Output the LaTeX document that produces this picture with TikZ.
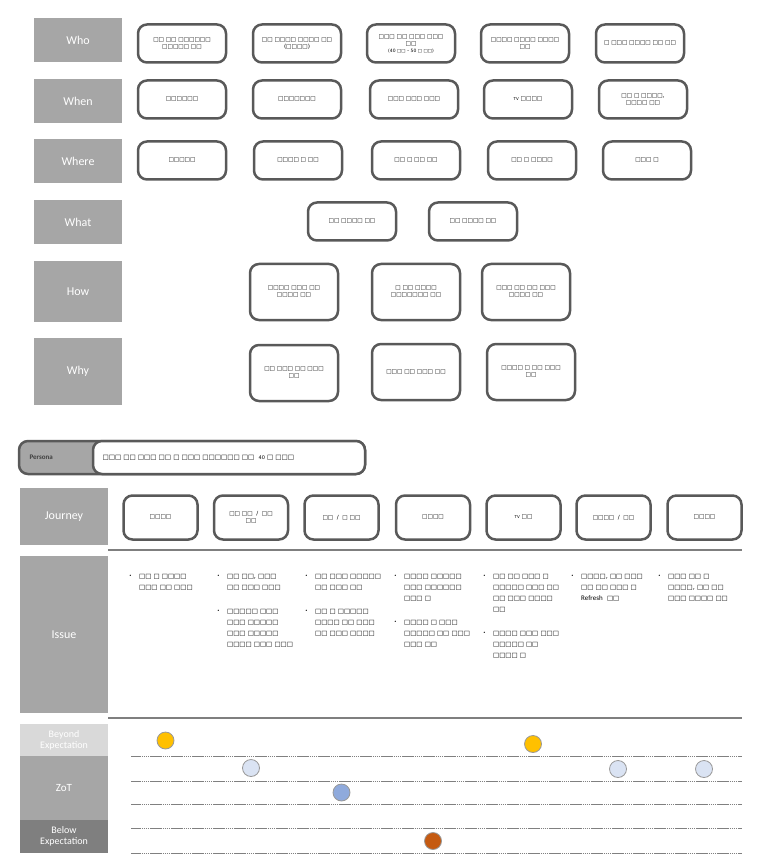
\documentclass[tikz,border=0pt]{standalone}
\usepackage{fontspec}
\setmainfont{DejaVu Sans}
\newfontfamily\labfont{Carlito}
\usetikzlibrary{positioning}
\definecolor{labgray}{HTML}{A6A6A6}
\definecolor{lightlab}{HTML}{D9D9D9}
\definecolor{darklab}{HTML}{7F7F7F}
\definecolor{cardline}{HTML}{595959}
\definecolor{gold}{HTML}{FFC000}
\definecolor{paleblue}{HTML}{DAE3F3}
\definecolor{midblue}{HTML}{8FAADC}
\definecolor{rust}{HTML}{C55A11}
\newcommand{\itm}[1]{\noindent\makebox[10pt][l]{\raisebox{1pt}{\fontsize{4.5}{5}\selectfont•}}\begin{tabular}[t]{@{}l@{}}#1\end{tabular}\par\vspace{11.5pt}}

\begin{document}
\begin{tikzpicture}[x=1pt,y=-1pt]
\tikzstyle{rowlab} = [fill=labgray, text=white, font=\labfont\fontsize{12}{13}\selectfont, minimum width=88pt, inner sep=0pt]
\tikzstyle{card} = [draw=cardline, line width=2.5pt, rounded corners=9pt, fill=white, minimum width=88pt, minimum height=38pt, align=center, inner sep=1pt, font=\fontsize{5.7}{7}\selectfont]
\tikzstyle{jcard} = [card, minimum width=74pt, minimum height=44pt]
\tikzstyle{issue} = [anchor=north west, text width=90pt, align=left, inner sep=0pt, font=\fontsize{6.5}{11}\selectfont]
\tikzstyle{dotline} = [gray, line width=0.6pt, dash pattern=on 1.6pt off 0.5pt]
\tikzstyle{mood} = [circle, minimum size=17pt, inner sep=0pt, draw=gray!80, line width=0.8pt]

\useasboundingbox (0,0) rectangle (768,866);

% 5W1H rows
\node[rowlab, minimum height=44pt] (who) at (78,40) {Who};
\node[rowlab, minimum height=44pt] (when) at (78,101) {When};
\node[rowlab, minimum height=44pt] (where) at (78,161) {Where};
\node[rowlab, minimum height=44pt] (what) at (78,222) {What};
\node[rowlab, minimum height=61pt] (how) at (78,291.5) {How};
\node[rowlab, minimum height=67pt] (why) at (78,371.5) {Why};

\node[card] (who1) at (182,43.5) {□□ □□ □□□□□□\\□□□□□ □□};
\node[card] (who2) at (297,43.5) {□□ □□□□ □□□□ □□\\(□□□□)};
\node[card] (who3) at (411,43.5) {□□□ □□ □□□ □□□\\□□\\{\fontsize{4.5}{6}\selectfont(40 □□ – 50 □ □□)}};
\node[card] (who4) at (525,43.5) {□□□□ □□□□ □□□□\\□□};
\node[card] (who5) at (640,43.5) {□ □□□ □□□□ □□ □□};

\node[card] (when1) at (182,99.5) {□□□□□□};
\node[card] (when2) at (297,99.5) {□□□□□□□};
\node[card] (when3) at (414,99.5) {□□□ □□□ □□□};
\node[card] (when4) at (528,99.5) {{\fontsize{4}{5}\selectfont TV} □□□□};
\node[card] (when5) at (643,99.5) {□□ □ □□□□,\\□□□□ □□};

\node[card] (where1) at (182,160.5) {□□□□□};
\node[card] (where2) at (298,160.5) {□□□□ □ □□};
\node[card] (where3) at (416,160.5) {□□ □ □□ □□};
\node[card] (where4) at (532,160.5) {□□ □ □□□□};
\node[card] (where5) at (647,160.5) {□□□ □};

\node[card] (what1) at (352,221.5) {□□ □□□□ □□};
\node[card] (what2) at (473,221.5) {□□ □□□□ □□};

\node[card, minimum height=56pt] (how1) at (294,292) {□□□□ □□□ □□\\□□□□ □□};
\node[card, minimum height=56pt] (how2) at (416,292) {□ □□ □□□□\\□□□□□□□ □□};
\node[card, minimum height=56pt] (how3) at (526,292) {□□□ □□ □□ □□□\\□□□□ □□};

\node[card, minimum height=56pt] (why1) at (294,373) {□□ □□□ □□ □□□\\□□};
\node[card, minimum height=56pt] (why2) at (416,372) {□□□ □□ □□□ □□};
\node[card, minimum height=56pt] (why3) at (531,372) {□□□□ □ □□ □□□\\□□};

% persona bar
\filldraw[fill=labgray, draw=cardline, line width=2.5pt, rounded corners=9pt] (19,441) rectangle (365,474);
\filldraw[fill=white, draw=cardline, line width=2.5pt, rounded corners=9pt] (93,441) rectangle (365,474);
\node[anchor=west, text=black!75, font=\labfont\bfseries\fontsize{7}{8}\selectfont] (persona) at (26,457.5) {Persona};
\node[anchor=west, font=\fontsize{6.6}{8}\selectfont] (personatext) at (99,457.5) {□□□ □□ □□□ □□ □ □□□ □□□□□□ □□ \ {\fontsize{5}{6}\selectfont 40} □ □□□};

% journey
\node[rowlab, minimum height=57pt] (journey) at (64,516.5) {Journey};
\node[jcard] (j1) at (160.5,517.5) {□□□□};
\node[jcard] (j2) at (251,517.5) {□□ □□ \ / \ □□\\□□};
\node[jcard] (j3) at (341.5,517.5) {□□ \ / \ □ □□};
\node[jcard] (j4) at (433,517.5) {□□□□};
\node[jcard] (j5) at (523.5,517.5) {{\fontsize{4}{5}\selectfont TV} □□};
\node[jcard] (j6) at (613.5,517.5) {□□□□ \ / \ □□};
\node[jcard] (j7) at (704.5,517.5) {□□□□};
\draw[darklab, line width=1.2pt] (journey.east |- 0,550) -- (742,550);

% issues
\node[rowlab, minimum height=157pt] (issue) at (64,634.5) {Issue};
\node[issue] (iss1) at (129,571) {\itm{□□ □ □□□□\\□□□ □□ □□□}};
\node[issue] (iss2) at (217,571) {\itm{□□ □□, □□□\\□□ □□□ □□□}\itm{□□□□□ □□□\\□□□ □□□□□\\□□□ □□□□□\\□□□□ □□□ □□□}};
\node[issue] (iss3) at (305,571) {\itm{□□ □□□ □□□□□\\□□ □□□ □□}\itm{□□ □ □□□□□\\□□□□ □□ □□□\\□□ □□□ □□□□}};
\node[issue] (iss4) at (394,571) {\itm{□□□□ □□□□□\\□□□ □□□□□□\\□□□ □}\itm{□□□□ □ □□□\\□□□□□ □□ □□□\\□□□ □□}};
\node[issue] (iss5) at (483,571) {\itm{□□ □□ □□□ □\\□□□□□ □□□ □□\\□□ □□□ □□□□\\□□}\itm{□□□□ □□□ □□□\\□□□□□ □□\\□□□□ □}};
\node[issue] (iss6) at (571,571) {\itm{□□□□, □□ □□□\\□□ □□ □□□ □\\{\labfont\fontsize{7}{8}\selectfont Refresh} \ □□}};
\node[issue] (iss7) at (658,571) {\itm{□□□ □□ □\\□□□□, □□ □□\\□□□ □□□□ □□}};
\draw[darklab, line width=1.2pt] (issue.east |- 0,718) -- (742,718);

% expectation scale
\node[rowlab, fill=lightlab, minimum height=32pt, align=center, font=\labfont\fontsize{10}{11}\selectfont] (beyond) at (64,740) {Beyond\\Expectation};
\node[rowlab, minimum height=64pt, font=\labfont\fontsize{11}{12}\selectfont] (zot) at (64,788) {ZoT};
\node[rowlab, fill=darklab, minimum height=33pt, align=center, font=\labfont\fontsize{10}{11}\selectfont] (below) at (64,836.5) {Below\\Expectation};

\draw[dotline] (131,756) -- (742,756);
\draw[dotline] (131,781) -- (742,781);
\draw[dotline] (131,804) -- (742,804);
\draw[dotline] (131,828) -- (742,828);
\draw[dotline] (131,853) -- (742,853);

\node[mood, fill=gold] (m1) at (165.5,740.5) {};
\node[mood, fill=paleblue] (m2) at (251,768) {};
\node[mood, fill=midblue] (m3) at (341.5,792.5) {};
\node[mood, fill=rust] (m4) at (433,841) {};
\node[mood, fill=gold] (m5) at (533,744) {};
\node[mood, fill=paleblue] (m6) at (618,769) {};
\node[mood, fill=paleblue] (m7) at (704,769) {};

\end{tikzpicture}
\end{document}
